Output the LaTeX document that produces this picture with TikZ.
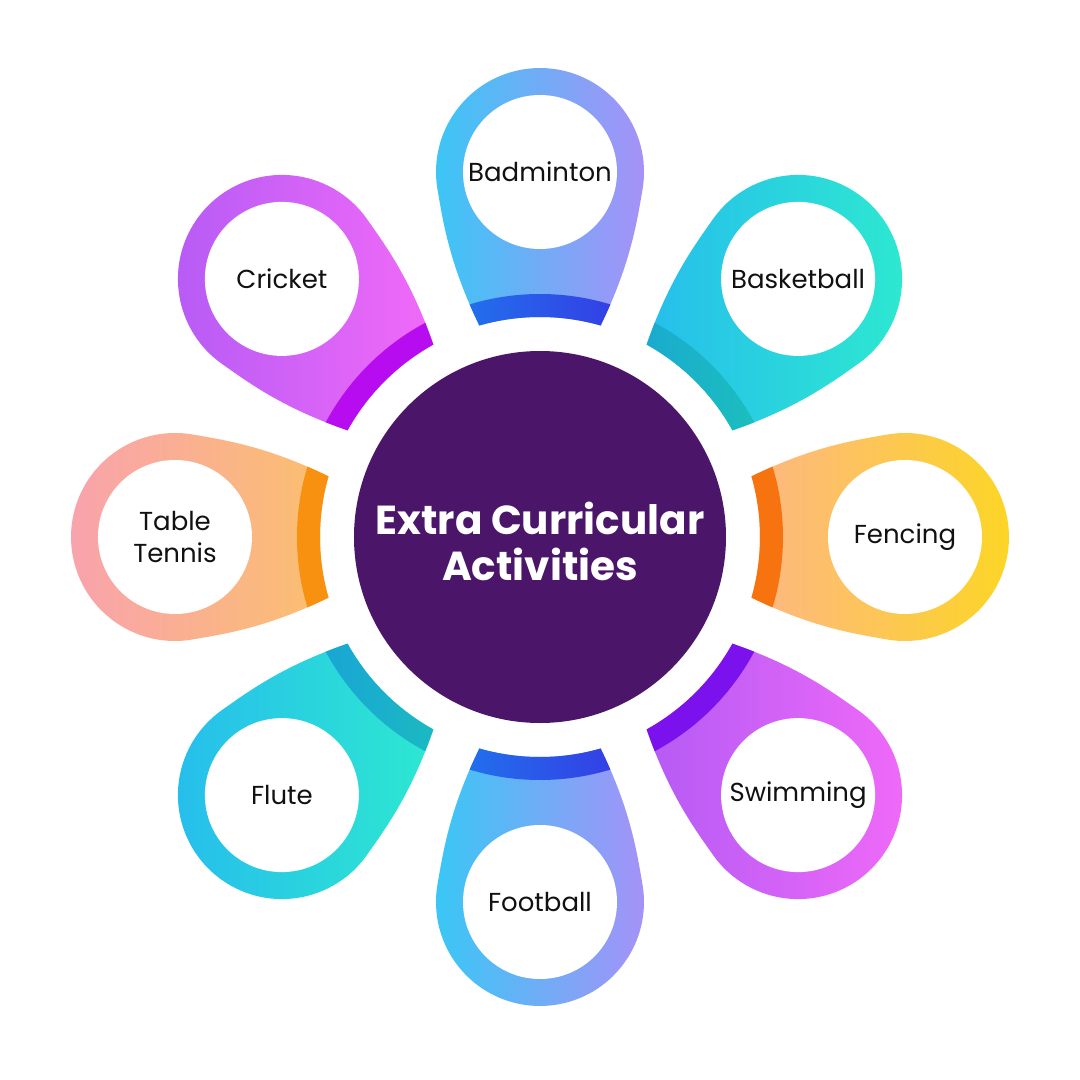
\documentclass[tikz,border=0pt]{standalone}
\usepackage{fontspec}
\setmainfont{Poppins}
\definecolor{hubpurple}{HTML}{4B1569}
\definecolor{labeltext}{HTML}{111111}
\definecolor{blueL}{HTML}{38C8F5}
\definecolor{blueR}{HTML}{A890F7}
\definecolor{blueBL}{HTML}{1C7FEF}
\definecolor{blueBR}{HTML}{3A2FE2}
\definecolor{tealL}{HTML}{26BEEC}
\definecolor{tealR}{HTML}{2DE8D0}
\definecolor{tealBL}{HTML}{1AA2D8}
\definecolor{tealBR}{HTML}{1BC2BA}
\definecolor{sunL}{HTML}{FDB784}
\definecolor{sunR}{HTML}{FCD624}
\definecolor{sunB}{HTML}{F7730F}
\definecolor{roseL}{HTML}{F9A2AE}
\definecolor{roseR}{HTML}{FBC06E}
\definecolor{roseB}{HTML}{F8910F}
\definecolor{violetL}{HTML}{B45BF5}
\definecolor{violetR}{HTML}{F26AF8}
\definecolor{violetB}{HTML}{7B12EE}
\definecolor{magentaB}{HTML}{B70CF0}
\tikzset{
  petal/.style = {insert path = {(#1+16:220) .. controls ([rotate=#1]274.4,91.3) and ([rotate=#1]317.4,97.2) .. ([rotate=#1]346.9,102.4)
    arc [start angle=#1+100, end angle=#1-100, radius=104pt] .. controls ([rotate=#1]317.4,-97.2) and ([rotate=#1]274.4,-91.3) .. (#1-16:220)
    arc [start angle=#1-16, end angle=#1+16, radius=220pt] -- cycle}},
  band/.style = {insert path = {(#1-30:220) arc [start angle=#1-30, end angle=#1+30, radius=220pt] -- (#1+30:243)
    arc [start angle=#1+30, end angle=#1-30, radius=243pt] -- cycle}},
  hole/.style = {circle, fill = white, minimum size = 154pt, inner sep = 0, align = center,
    text = labeltext, font = \fontsize{26}{32}\selectfont},
  hub/.style = {circle, fill = hubpurple, minimum size = 372pt, inner sep = 0, align = center,
    text = white, font = \bfseries\fontsize{40.5}{46}\selectfont}
}
\begin{document}
\begin{tikzpicture}[x = 1pt, y = 1pt]
  \useasboundingbox (-540, -543) rectangle (540, 537);
  \fill [white] (-540, -543) rectangle (540, 537);
  \foreach \a/\n/\lab/\lc/\rc/\bl/\br in {
      90/badminton/Badminton/blueL/blueR/blueBL/blueBR,
      45/basketball/Basketball/tealL/tealR/tealBL/tealBR,
      0/fencing/Fencing/sunL/sunR/sunB/sunB,
      -45/swimming/Swimming/violetL/violetR/violetB/violetB,
      -90/football/Football/blueL/blueR/blueBL/blueBR,
      -135/flute/Flute/tealL/tealR/tealBL/tealBR,
      180/tabletennis/{Table\\Tennis}/roseL/roseR/roseB/roseB,
      135/cricket/Cricket/violetL/violetR/magentaB/magentaB} {
    \shade [left color = \lc, right color = \rc, petal = \a];
    \begin{scope}
      \clip [petal = \a];
      \shade [left color = \bl, right color = \br, band = \a];
    \end{scope}
    \node [hole] (\n) at (\a:365) {\lab};
  }
  \node [hub] (hub) at (0, 0) {};
  \node [text = white, align = center, font = \bfseries\fontsize{40.5}{46}\selectfont] (title) at (0, -4) {Extra Curricular\\Activities};
\end{tikzpicture}
\end{document}
